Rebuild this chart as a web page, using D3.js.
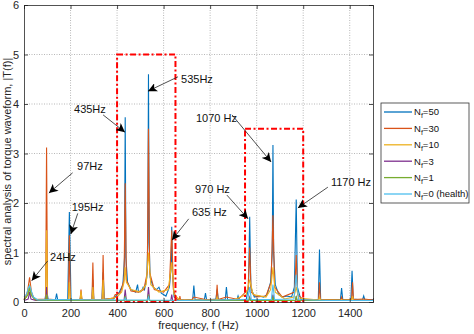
<!DOCTYPE html>
<html>
<head>
<meta charset="utf-8">
<script src="https://cdn.jsdelivr.net/npm/d3@7"></script>
<style>
  body { margin: 0; background: #fff; }
  svg { font-family: "Liberation Sans", Arial, sans-serif; }
</style>
</head>
<body>
<svg id="chart" width="474" height="334"></svg>
<script>
// spectrum points [frequency Hz, |T(f)|]
var nf50 = [[0,0.05],[10,0.1],[20,0.2],[24,0.3],[30,0.15],[45,0.05],[90,0.05],[97,0.25],[104,0.05],[135,0.04],[140,0.17],[145,0.04],
  [188,0.05],[195,1.82],[202,0.05],[240,0.04],[245,0.12],[250,0.04],[292,0.05],[296,0.45],[300,0.05],[335,0.05],[340,0.6],[345,0.06],
  [385,0.06],[395,0.12],[410,0.2],[425,0.35],[432,0.9],[435,3.73],[438,0.9],[445,0.4],[460,0.25],[480,0.2],[488,0.35],[492,0.2],
  [505,0.22],[512,0.3],[518,0.25],[528,0.5],[532,1.2],[535,4.6],[538,1.2],[542,0.5],[555,0.3],[570,0.25],[580,0.3],[590,0.18],
  [610,0.12],[625,0.3],[632,0.7],[635,1.52],[638,0.6],[645,0.1],[660,0.05],[690,0.04],[725,0.05],[730,0.33],[735,0.05],[775,0.04],
  [780,0.18],[785,0.04],[825,0.06],[830,0.25],[835,0.05],[865,0.05],[870,0.3],[875,0.05],[915,0.04],[920,0.12],[925,0.04],[955,0.05],
  [965,0.3],[970,1.72],[975,0.3],[990,0.1],[1010,0.12],[1030,0.1],[1045,0.15],[1060,0.4],[1067,1.0],[1070,3.17],[1073,1.0],[1080,0.35],
  [1095,0.15],[1110,0.1],[1130,0.12],[1150,0.1],[1162,0.3],[1170,2.07],[1175,0.3],[1190,0.05],[1220,0.05],[1265,0.05],[1270,1.06],
  [1275,0.05],[1320,0.05],[1360,0.05],[1365,0.28],[1370,0.05],[1405,0.05],[1410,0.63],[1415,0.06],[1455,0.04],[1460,0.12],[1465,0.04],[1500,0.05]]
var nf30 = [[0,0.05],[15,0.2],[24,0.5],[32,0.2],[45,0.05],[93,0.06],[97,3.12],[101,0.06],[150,0.04],[191,0.05],[195,1.35],[199,0.05],
  [241,0.05],[245,0.25],[249,0.05],[292,0.05],[296,0.8],[300,0.05],[336,0.05],[340,0.95],[344,0.05],[385,0.08],[392,0.15],[400,0.15],
  [415,0.2],[430,0.45],[435,2.4],[440,0.45],[460,0.22],[490,0.2],[515,0.25],[530,0.6],[535,3.5],[540,0.6],[560,0.25],[600,0.2],
  [625,0.35],[635,1.45],[642,0.25],[655,0.06],[668,0.05],[670,0.12],[673,0.04],[720,0.04],[730,0.1],[780,0.05],[826,0.05],[830,0.35],[834,0.05],
  [870,0.1],[920,0.05],[963,0.25],[970,1.1],[976,0.2],[1000,0.1],[1040,0.12],[1062,0.4],[1070,1.75],[1077,0.3],[1110,0.1],[1163,0.2],
  [1170,0.95],[1176,0.15],[1200,0.05],[1266,0.05],[1270,0.4],[1274,0.05],[1361,0.04],[1365,0.1],[1369,0.04],[1408,0.05],[1412,0.4],[1416,0.05],
  [1460,0.06],[1500,0.04]]
var nf10 = [[0,0.04],[15,0.15],[24,0.35],[33,0.12],[50,0.04],[93,0.05],[97,1.45],[101,0.05],[191,0.04],[195,0.4],[199,0.04],
  [241,0.04],[245,0.22],[249,0.04],[292,0.04],[296,0.3],[300,0.04],[336,0.04],[340,0.45],[344,0.04],[400,0.1],[420,0.2],[430,0.4],
  [435,0.7],[440,0.4],[460,0.25],[500,0.2],[525,0.35],[535,1.0],[545,0.35],[580,0.2],[620,0.25],[635,0.8],[645,0.15],[670,0.04],
  [720,0.04],[826,0.04],[830,0.1],[834,0.04],[900,0.04],[955,0.15],[970,0.45],[985,0.15],[1040,0.1],[1060,0.25],[1070,0.7],[1080,0.2],[1120,0.06],
  [1160,0.1],[1170,0.3],[1180,0.08],[1266,0.04],[1270,0.1],[1274,0.04],[1408,0.04],[1412,0.12],[1416,0.04],[1500,0.03]]
var nf3 = [[0,0.03],[18,0.06],[24,0.2],[30,0.06],[50,0.03],[94,0.03],[97,0.3],[100,0.03],[430,0.03],[435,0.25],[440,0.03],
  [530,0.03],[535,0.3],[540,0.03],[631,0.03],[635,0.15],[639,0.03],[966,0.03],[970,0.1],[974,0.03],[1066,0.03],[1070,0.15],[1074,0.03],
  [1166,0.03],[1170,0.1],[1174,0.03],[1500,0.03]]
var nf1 = [[0,0.04],[18,0.15],[24,0.3],[30,0.15],[50,0.04],[94,0.03],[97,0.15],[100,0.03],[431,0.03],[435,0.12],[439,0.03],
  [531,0.03],[535,0.15],[539,0.03],[966,0.03],[970,0.08],[974,0.03],[1066,0.03],[1070,0.1],[1074,0.03],[1166,0.03],[1170,0.12],
  [1174,0.03],[1500,0.03]]
var nf0 = [[0,0.1],[10,0.15],[18,0.28],[24,0.33],[30,0.25],[40,0.1],[60,0.04],[140,0.05],[400,0.04],[431,0.04],[435,0.08],[439,0.04],
  [531,0.04],[535,0.1],[539,0.04],[700,0.03],[962,0.05],[970,0.3],[977,0.05],[1063,0.05],[1070,0.35],[1077,0.05],[1160,0.06],
  [1170,0.55],[1180,0.05],[1300,0.03],[1500,0.03]]

var seriesNames = ["50", "30", "10", "3", "1", "0 (health)"]
var seriesData = [nf50, nf30, nf10, nf3, nf1, nf0]
var seriesColors = ["#0072BD", "#D95319", "#EDB120", "#7E2F8E", "#77AC30", "#4DBEEE"]

var xTicks = [0, 200, 400, 600, 800, 1000, 1200, 1400]
var yTicks = [0, 1, 2, 3, 4, 5, 6]

// dash-dot boxes: [f0, f1, top]
var boxes = [[400, 651, 5], [950, 1200, 3.5]]

// labels: text, text anchor (f, v), arrow from (f, v) to (f, v)
var notes = [
  ["24Hz", 112, 0.91, 102, 0.83, 33, 0.43],
  ["97Hz", 228, 2.75, 209, 2.61, 107, 2.2],
  ["195Hz", 205, 1.92, 231, 1.79, 201, 1.37],
  ["435Hz", 215, 3.9, 340, 3.78, 434, 3.43],
  ["535Hz", 675, 4.5, 662, 4.55, 533, 4.26],
  ["635 Hz", 722, 1.82, 708, 1.68, 636, 1.25],
  ["970 Hz", 735, 2.28, 872, 2.16, 963, 1.68],
  ["1070 Hz", 739, 3.72, 894, 3.78, 1062, 2.83],
  ["1170 Hz", 1319, 2.42, 1306, 2.32, 1177, 1.9]
]

var plotLeft = 24, plotTop = 5, plotRight = 373, plotBottom = 302

var svg = d3.select("#chart")

var x = d3.scaleLinear().domain([0, 1500]).range([plotLeft, plotRight])
var y = d3.scaleLinear().domain([0, 6]).range([plotBottom, plotTop])

svg.append("defs").append("marker")
    .attr("id", "head")
    .attr("viewBox", "0 0 10 10")
    .attr("refX", 10).attr("refY", 5)
    .attr("markerWidth", 9).attr("markerHeight", 9)
    .attr("markerUnits", "userSpaceOnUse")
    .attr("orient", "auto")
    .append("path")
    .attr("d", "M0,0 L10,5 L0,10 L2.5,5 z")
    .attr("fill", "#000")

// grid
var grid = svg.append("g").attr("stroke", "#9a9a9a").attr("stroke-width", 0.7).attr("stroke-dasharray", "1,1.5")
xTicks.slice(1).forEach(function (t) {
    grid.append("line").attr("x1", x(t)).attr("x2", x(t)).attr("y1", plotTop).attr("y2", plotBottom)
})
yTicks.slice(1, -1).forEach(function (t) {
    grid.append("line").attr("x1", plotLeft).attr("x2", plotRight).attr("y1", y(t)).attr("y2", y(t))
})

// spectra
var line = d3.line()
    .x(function (d) { return x(d[0]) })
    .y(function (d) { return y(d[1]) })

svg.append("g").selectAll("path")
    .data(seriesData)
    .join("path")
    .attr("fill", "none")
    .attr("stroke", function (d, i) { return seriesColors[i] })
    .attr("stroke-width", 1.1)
    .attr("d", line)

// red dash-dot boxes
svg.append("g").selectAll("rect")
    .data(boxes)
    .join("rect")
    .attr("x", function (d) { return x(d[0]) })
    .attr("y", function (d) { return y(d[2]) })
    .attr("width", function (d) { return x(d[1]) - x(d[0]) })
    .attr("height", function (d) { return y(0) - y(d[2]) })
    .attr("fill", "none")
    .attr("stroke", "#ff0000")
    .attr("stroke-width", 2)
    .attr("stroke-dasharray", "6,2.5,2,2.5")

// axes box and ticks (inward, all sides)
var axisColor = "#262626"
var fmt = d3.format("d")
svg.append("g")
    .attr("transform", "translate(0," + plotBottom + ")")
    .call(d3.axisBottom(x).tickValues(xTicks).tickSize(-4).tickPadding(7).tickFormat(fmt))
svg.append("g")
    .attr("transform", "translate(0," + plotTop + ")")
    .call(d3.axisTop(x).tickValues(xTicks).tickSize(-4).tickFormat(""))
svg.append("g")
    .attr("transform", "translate(" + plotLeft + ",0)")
    .call(d3.axisLeft(y).tickValues(yTicks).tickSize(-4).tickPadding(5).tickFormat(fmt))
svg.append("g")
    .attr("transform", "translate(" + plotRight + ",0)")
    .call(d3.axisRight(y).tickValues(yTicks).tickSize(-4).tickFormat(""))
svg.selectAll(".domain").attr("stroke", axisColor).attr("stroke-width", 0.8)
svg.selectAll(".tick line").attr("stroke", axisColor).attr("stroke-width", 0.8)
svg.selectAll(".tick text").attr("font-size", 11).attr("fill", "#262626")
    .attr("font-family", "Liberation Sans, Arial, sans-serif")

// axis labels
svg.append("text")
    .attr("x", (plotLeft + plotRight) / 2).attr("y", 329)
    .attr("text-anchor", "middle").attr("font-size", 11).attr("fill", "#262626")
    .text("frequency, f (Hz)")
svg.append("text")
    .attr("transform", "translate(11," + ((plotTop + plotBottom) / 2 + 8) + ") rotate(-90)")
    .attr("text-anchor", "middle").attr("font-size", 11).attr("fill", "#262626")
    .text("spectral analysis of torque waveform, |T(f)|")

// annotations
var ann = svg.append("g")
notes.forEach(function (n) {
    ann.append("line")
        .attr("x1", x(n[3])).attr("y1", y(n[4]))
        .attr("x2", x(n[5])).attr("y2", y(n[6]))
        .attr("stroke", "#222").attr("stroke-width", 0.8)
        .attr("marker-end", "url(#head)")
    ann.append("text")
        .attr("x", x(n[1])).attr("y", y(n[2]))
        .attr("dy", "0.35em")
        .attr("font-size", 11).attr("fill", "#111")
        .text(n[0])
})

// legend
var legend = svg.append("g").attr("transform", "translate(381,103)")
legend.append("rect")
    .attr("width", 88).attr("height", 100)
    .attr("fill", "#fff").attr("stroke", "#333").attr("stroke-width", 0.8)
seriesNames.forEach(function (name, i) {
    var ly = 9 + i * 16.4
    legend.append("line")
        .attr("x1", 3).attr("x2", 31).attr("y1", ly).attr("y2", ly)
        .attr("stroke", seriesColors[i]).attr("stroke-width", 1.3)
    var t = legend.append("text")
        .attr("x", 33).attr("y", ly).attr("dy", "0.35em")
        .attr("font-size", 9.5).attr("fill", "#111")
    t.append("tspan").text("N")
    t.append("tspan").attr("font-size", 7).attr("dy", "3").text("f")
    t.append("tspan").attr("dy", "-3").text("=" + name)
})
</script>
</body>
</html>
